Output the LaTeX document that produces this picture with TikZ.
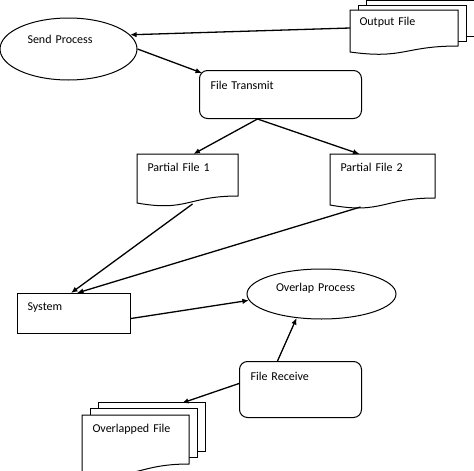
\documentclass[tikz,border=0pt]{standalone}
\usepackage{fontspec}
\setmainfont{Carlito}
\usetikzlibrary{shapes.geometric,arrows.meta,calc,backgrounds}

\tikzset{
  proc/.style={draw, rounded corners=8pt, anchor=north west, inner xsep=11pt, inner ysep=0pt, align=left},
  sysbox/.style={draw, anchor=north west, inner xsep=10pt, inner ysep=0pt, align=left},
  doc/.style={anchor=north west, inner xsep=10pt, inner ysep=0pt, align=left},
  bubble/.style={draw, ellipse, inner sep=0pt, align=left},
  sheet/.style={draw=black, fill=white, line width=1pt},
}

% document outline: node name, drop of left corner, dip of the wave
\newcommand{\docoutline}[3]{%
  \draw[sheet] (#1.south east) -- (#1.north east) -- (#1.north west) -- ([yshift=-#2]#1.south west)
    .. controls ($(#1.south west)!0.5!(#1.south east)+(0,-#3)$) and ($(#1.south west)!0.5!(#1.south east)$) .. (#1.south east) -- cycle;}
% sheet behind a document: node name, x offset, y offset
\newcommand{\docbehind}[3]{%
  \draw[sheet] ([shift={(#2,#3)}]#1.north west) rectangle ([shift={(#2,#3)}]#1.south east);}

\begin{document}
\begin{tikzpicture}[x=1pt, y=-1pt, line width=1pt, font=\fontsize{12}{14}\selectfont, >={Latex[length=6.5pt,width=5.5pt]}]
   \useasboundingbox (0,0) rectangle (474,471);
   \begin{scope}
    \node[bubble, minimum width=137pt, minimum height=62pt, text width=82pt, text height=9pt, text depth=21pt] (sp) at (68.5,49) {Send Process};
    \node[proc, text width=140pt, text height=19pt, text depth=29pt] (ft) at (199,70) {File Transmit};
    \node[doc, text width=80pt, text height=17pt, text depth=24pt] (pf1) at (137,154) {Partial File 1};
    \node[doc, text width=84pt, text height=17pt, text depth=26pt] (pf2) at (330,154) {Partial File 2};
    \node[sysbox, text width=93pt, text height=17pt, text depth=23pt] (sys) at (17,293) {System};
    \node[bubble, minimum width=149pt, minimum height=50pt, text width=91pt, text height=9pt, text depth=15pt] (op) at (321.5,294) {Overlap Process};
    \node[proc, text width=100pt, text height=19pt, text depth=37pt] (fr) at (239,361) {File Receive};
    \node[doc, inner xsep=9pt, text width=89pt, text height=15pt, text depth=20pt] (of) at (350,10) {Output File};
    \node[doc, text width=86pt, text height=17pt, text depth=31pt] (ovf) at (82,415) {Overlapped File};
   \end{scope}
   \begin{pgfonlayer}{background}
    \docbehind{of}{16.5pt}{10pt}
    \docbehind{of}{8.5pt}{5pt}
    \docoutline{of}{6pt}{13.5pt}
    \docoutline{pf1}{7pt}{16pt}
    \docoutline{pf2}{7pt}{16.5pt}
    \docbehind{ovf}{16pt}{13pt}
    \docbehind{ovf}{8pt}{6.5pt}
    \docoutline{ovf}{8pt}{18pt}
   \end{pgfonlayer}
   \coordinate (ftout) at ([xshift=-23pt]ft.south);
   \begin{scope}[every edge/.style={draw=black,line width=1.3pt,->}]
    \draw (of.west) edge (sp.13);
    \draw (sp.east) edge ([xshift=3pt,yshift=-3pt]ft.north west);
    \draw (ftout) edge ([xshift=6pt]pf1.north);
    \draw (ftout) edge ([xshift=-23pt]pf2.north);
    \draw ([xshift=5pt,yshift=-8pt]pf1.south) edge ([xshift=-3pt]sys.north);
    \draw ([xshift=-22pt,yshift=-9pt]pf2.south) edge ([xshift=3pt]sys.north);
    \draw ([yshift=-5pt]sys.east) edge (op.185);
    \draw ([xshift=-23pt]fr.north) edge (op.224);
    \draw ([yshift=6pt]fr.west) edge ([xshift=100pt,yshift=12pt]ovf.north west);
   \end{scope}
\end{tikzpicture}
\end{document}
